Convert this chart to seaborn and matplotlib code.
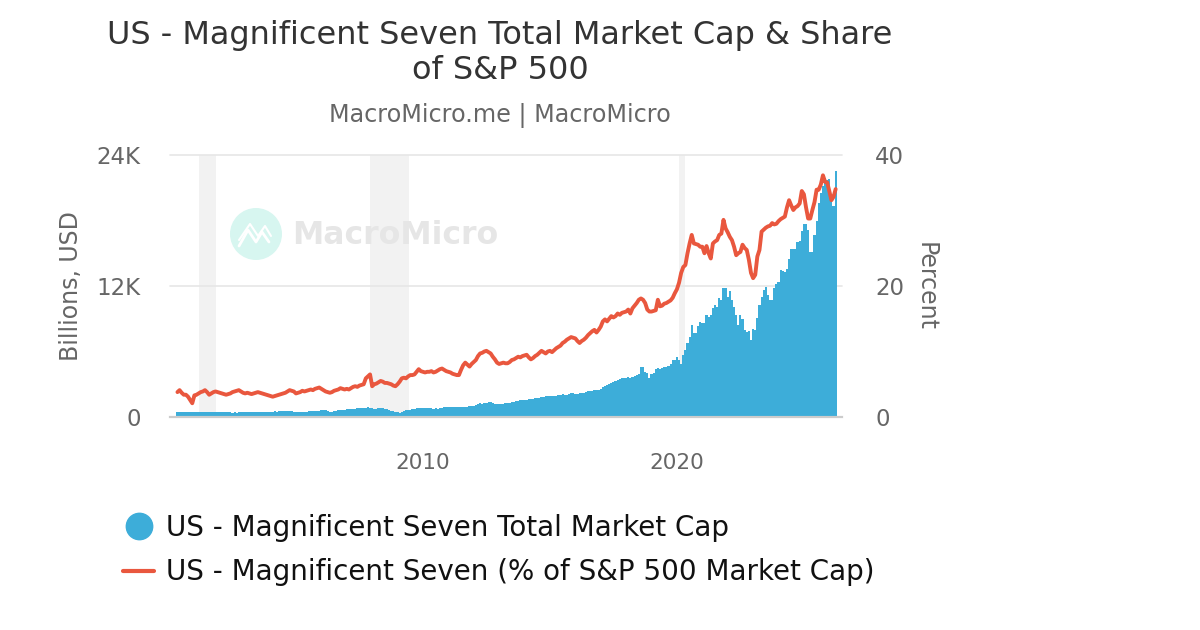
import numpy as np
import pandas as pd
import matplotlib.pyplot as plt
import seaborn as sns
from matplotlib.lines import Line2D
from matplotlib.patches import Ellipse

# Monthly data, May 2000 - Apr 2026
start_year, start_month = 2000, 5

# total market cap, billions USD (thousands on axis)
cap_k = (
    [0.50, 0.50, 0.49, 0.48, 0.47, 0.46, 0.45, 0.44]  # 2000
    + [0.45, 0.44, 0.43, 0.44, 0.45, 0.46, 0.45, 0.44, 0.42, 0.43, 0.44, 0.45]  # 2001
    + [0.45, 0.44, 0.44, 0.43, 0.43, 0.42, 0.41, 0.42, 0.41, 0.42, 0.43, 0.43]  # 2002
    + [0.43, 0.42, 0.43, 0.44, 0.45, 0.46, 0.47, 0.47, 0.48, 0.49, 0.50, 0.50]  # 2003
    + [0.50, 0.50, 0.51, 0.50, 0.51, 0.52, 0.51, 0.52, 0.53, 0.52, 0.51, 0.50]  # 2004
    + [0.50, 0.50, 0.49, 0.49, 0.50, 0.50, 0.51, 0.51, 0.52, 0.52, 0.53, 0.55]  # 2005
    + [0.65, 0.66, 0.60, 0.52, 0.50, 0.50, 0.52, 0.55, 0.62, 0.65, 0.66, 0.68]  # 2006
    + [0.70, 0.72, 0.73, 0.75, 0.76, 0.78, 0.78, 0.80, 0.82, 0.85, 0.88, 0.86]  # 2007
    + [0.78, 0.75, 0.76, 0.80, 0.82, 0.80, 0.72, 0.70, 0.65, 0.55, 0.52, 0.50]  # 2008
    + [0.42, 0.40, 0.45, 0.58, 0.62, 0.65, 0.68, 0.72, 0.75, 0.78, 0.80, 0.82]  # 2009
    + [0.80, 0.78, 0.82, 0.84, 0.78, 0.76, 0.78, 0.74, 0.80, 0.86, 0.88, 0.92]  # 2010
    + [0.95, 0.96, 0.94, 0.95, 0.93, 0.90, 0.95, 0.88, 0.90, 0.96, 0.98, 1.00]  # 2011
    + [1.02, 1.08, 1.20, 1.24, 1.22, 1.25, 1.30, 1.35, 1.38, 1.25, 1.16, 1.15]  # 2012
    + [1.18, 1.20, 1.22, 1.28, 1.30, 1.32, 1.36, 1.38, 1.42, 1.48, 1.52, 1.55]  # 2013
    + [1.55, 1.60, 1.62, 1.65, 1.68, 1.72, 1.75, 1.78, 1.84, 1.86, 1.90, 1.88]  # 2014
    + [1.92, 1.95, 1.93, 1.95, 1.98, 2.02, 2.08, 2.00, 2.05, 2.15, 2.18, 2.20]  # 2015
    + [2.15, 2.12, 2.18, 2.20, 2.22, 2.25, 2.35, 2.40, 2.42, 2.45, 2.44, 2.50]  # 2016
    + [2.60, 2.72, 2.84, 2.92, 3.05, 3.10, 3.18, 3.28, 3.36, 3.48, 3.55, 3.60]  # 2017
    + [3.60, 3.65, 3.55, 3.70, 3.80, 3.85, 3.95, 4.55, 4.60, 4.10, 4.05, 3.60]  # 2018
    + [3.95, 4.05, 4.40, 4.50, 4.40, 4.45, 4.60, 4.55, 4.70, 4.90, 5.20, 5.25]  # 2019
    + [5.50, 5.20, 4.90, 5.70, 6.10, 6.75, 7.35, 8.40, 7.70, 7.70, 8.30, 8.70]  # 2020
    + [8.60, 8.60, 9.30, 9.20, 9.30, 10.0, 10.3, 10.1, 10.9, 10.7, 11.8, 11.8]  # 2021
    + [11.0, 11.5, 10.7, 10.1, 9.30, 8.40, 9.30, 9.00, 8.00, 7.80, 7.90, 7.05]  # 2022
    + [8.10, 8.00, 9.10, 10.3, 11.0, 11.6, 11.9, 11.2, 10.7, 10.7, 11.8, 12.2]  # 2023
    + [12.4, 13.5, 13.4, 13.3, 13.6, 14.5, 15.4, 15.4, 15.4, 16.0, 16.1, 17.0]  # 2024
    + [17.7, 17.7, 17.1, 15.1, 15.1, 16.7, 18.0, 19.6, 20.5, 21.2, 21.9, 21.7]  # 2025
    + [21.8, 19.9, 19.3, 22.5]  # 2026
)

# share of S&P 500 market cap, percent
share_pct = (
    [3.8, 4.1, 3.7, 3.4, 3.4, 3.1, 2.6, 2.1]  # 2000
    + [3.3, 3.4, 3.6, 3.8, 3.9, 4.1, 3.8, 3.4, 3.6, 3.8, 3.9, 3.8]  # 2001
    + [3.7, 3.6, 3.5, 3.4, 3.5, 3.6, 3.8, 3.9, 4.0, 4.1, 3.9, 3.7]  # 2002
    + [3.6, 3.7, 3.6, 3.5, 3.6, 3.7, 3.8, 3.7, 3.6, 3.5, 3.4, 3.3]  # 2003
    + [3.2, 3.1, 3.2, 3.3, 3.4, 3.5, 3.6, 3.7, 3.9, 4.1, 4.0, 3.9]  # 2004
    + [3.6, 3.7, 3.8, 4.0, 3.9, 4.0, 4.1, 4.2, 4.1, 4.3, 4.4, 4.5]  # 2005
    + [4.3, 4.1, 3.9, 3.8, 3.7, 3.8, 4.0, 4.1, 4.2, 4.4, 4.3, 4.2]  # 2006
    + [4.3, 4.2, 4.4, 4.6, 4.7, 4.6, 4.8, 4.9, 5.0, 5.9, 6.2, 6.5]  # 2007
    + [4.7, 5.0, 5.1, 5.3, 5.5, 5.4, 5.2, 5.2, 5.1, 5.0, 4.8, 4.7]  # 2008
    + [5.0, 5.4, 5.9, 6.0, 5.9, 6.2, 6.4, 6.4, 6.5, 6.9, 7.3, 7.0]  # 2009
    + [6.9, 6.8, 6.9, 6.9, 7.0, 6.8, 6.9, 7.1, 7.3, 7.4, 7.2, 7.0]  # 2010
    + [6.9, 6.8, 6.6, 6.5, 6.4, 6.4, 7.2, 7.9, 8.3, 8.0, 7.7, 8.1]  # 2011
    + [8.4, 8.7, 9.3, 9.7, 9.8, 10.0, 10.1, 9.9, 9.7, 9.2, 8.8, 8.3]  # 2012
    + [8.1, 8.2, 8.3, 8.2, 8.2, 8.4, 8.7, 8.8, 9.0, 9.2, 9.1, 9.3]  # 2013
    + [9.4, 9.5, 9.1, 8.8, 9.0, 9.3, 9.5, 9.8, 10.1, 9.9, 9.7, 10.0]  # 2014
    + [10.1, 9.9, 10.2, 10.5, 10.7, 10.9, 11.3, 11.5, 11.8, 12.0, 12.2, 12.1]  # 2015
    + [12.0, 11.6, 11.3, 11.6, 11.8, 12.1, 12.5, 12.8, 13.1, 13.3, 12.9, 13.3]  # 2016
    + [13.8, 14.6, 14.9, 14.6, 15.0, 15.4, 15.2, 15.4, 15.8, 15.6, 15.9, 16.0]  # 2017
    + [16.1, 16.4, 15.8, 16.6, 17.0, 17.4, 17.9, 18.1, 17.9, 17.4, 16.4, 16.1]  # 2018
    + [16.1, 16.2, 16.3, 17.9, 16.9, 17.0, 17.3, 17.4, 17.6, 17.8, 18.2, 18.9]  # 2019
    + [19.5, 20.5, 22.0, 22.9, 23.2, 25.0, 26.5, 27.8, 26.5, 26.4, 26.3, 26.0]  # 2020
    + [26.0, 25.0, 26.1, 25.0, 24.2, 26.5, 26.8, 27.0, 27.8, 28.0, 30.1, 28.8]  # 2021
    + [28.2, 27.5, 27.0, 26.0, 24.7, 25.0, 25.2, 26.3, 25.8, 25.5, 24.0, 22.0]  # 2022
    + [21.2, 21.7, 24.5, 25.5, 28.3, 28.6, 28.9, 29.1, 29.2, 29.6, 29.4, 29.5]  # 2023
    + [29.9, 30.2, 30.4, 30.6, 32.0, 33.1, 32.3, 31.6, 32.0, 32.2, 32.6, 34.5]  # 2024
    + [34.0, 32.0, 30.3, 30.3, 31.6, 32.8, 34.7, 34.7, 35.5, 36.9, 35.9, 35.8]  # 2025
    + [34.5, 33.1, 33.6, 34.8]  # 2026
)

# recession periods (start, end) as decimal years
recessions = [(2001.17, 2001.87), (2007.92, 2009.47), (2020.08, 2020.33)]

blue = "#3DADD9"
red = "#E9573E"
grey_txt = "#666666"

n = len(cap_k)
months = pd.period_range(f"{start_year}-{start_month:02d}", periods=n, freq="M")
xs = np.array([p.year + (p.month - 1) / 12 for p in months])
df = pd.DataFrame({"x": xs, "cap": cap_k, "pct": share_pct})

sns.set_style("white")
plt.rcParams["font.family"] = ["DejaVu Sans"]

fig = plt.figure(figsize=(12, 6.3), dpi=100)
ax = fig.add_axes([170 / 1200, 1 - 417 / 630, 672 / 1200, 262 / 630])

for a, b in recessions:
    ax.axvspan(a, b, color="#F2F2F2", lw=0, zorder=0)

sns.barplot(data=df, x="x", y="cap", native_scale=True, color=blue,
            width=1.0, errorbar=None, linewidth=0, saturation=1, ax=ax, zorder=2)

ax2 = ax.twinx()
sns.lineplot(data=df, x="x", y="pct", color=red, linewidth=2.8, ax=ax2, zorder=3)

ax.set_xlim(2000.04, 2026.5)
ax.set_ylim(0, 24)
ax2.set_ylim(0, 40)

ax.set_yticks([0, 12, 24])
ax.set_yticklabels(["0", "12K", "24K"])
ax2.set_yticks([0, 20, 40])
ax.set_xticks([2010, 2020])
ax.set_xticklabels(["2010", "2020"])

ax.grid(axis="y", color="#E6E6E6", linewidth=1.2)
for gl in ax.get_ygridlines():
    gl.set_clip_on(False)
ax.set_axisbelow(True)
for a in (ax, ax2):
    for s in ["top", "right", "left"]:
        a.spines[s].set_visible(False)
    a.spines["bottom"].set_color("#CCCCCC")
    a.spines["bottom"].set_linewidth(1.5)
    a.set_xlabel("")

ax.tick_params(axis="x", colors="#CCCCCC", length=9, width=1.2, labelcolor=grey_txt,
               labelsize=15.5, pad=17)
ax.tick_params(axis="y", length=0, labelcolor=grey_txt, labelsize=16.5, pad=21)
ax2.tick_params(axis="y", length=0, labelcolor=grey_txt, labelsize=16.5, pad=24)

ax.set_ylabel("Billions, USD", color=grey_txt, fontsize=17, labelpad=10)
ax2.set_ylabel("Percent", color=grey_txt, fontsize=17, rotation=-90, labelpad=24)

fig.text(500 / 1200, 1 - 53 / 630,
         "US - Magnificent Seven Total Market Cap & Share\nof S&P 500",
         ha="center", va="center", fontsize=23, color="#333333", linespacing=1.13)
fig.text(500 / 1200, 1 - 116 / 630, "MacroMicro.me | MacroMicro",
         ha="center", va="center", fontsize=17.2, color=grey_txt)

# watermark
fig.add_artist(Ellipse((256 / 1200, 1 - 234 / 630), 52 / 1200, 52 / 630,
                       transform=fig.transFigure, color="#D7F6F0", lw=0, zorder=1))
zx = np.array([239, 248, 256, 262, 269]) / 1200
zy = 1 - np.array([246, 230, 242, 232, 242]) / 630
fig.add_artist(Line2D(zx, zy, color="white", lw=2, transform=fig.transFigure, zorder=2))
zx2 = np.array([239, 250, 258, 265, 271]) / 1200
zy2 = 1 - np.array([240, 224, 236, 226, 236]) / 630
fig.add_artist(Line2D(zx2, zy2, color="white", lw=1.5, transform=fig.transFigure, zorder=2))
fig.text(292 / 1200, 1 - 236 / 630, "MacroMicro", ha="left", va="center",
         fontsize=22.7, fontweight="bold", color="#E6E6E6", zorder=1)

# legend
handles = [
    Line2D([], [], marker="o", linestyle="none", markersize=19, color=blue),
    Line2D([], [], color=red, lw=3),
]
labels = ["US - Magnificent Seven Total Market Cap",
          "US - Magnificent Seven (% of S&P 500 Market Cap)"]
fig.legend(handles, labels, loc="upper left", bbox_to_anchor=(112 / 1200, 1 - 503 / 630),
           frameon=False, fontsize=20, handlelength=1.12, handletextpad=0.43,
           labelspacing=0.58, labelcolor="#111111", borderaxespad=0)

fig.savefig("out.png", dpi=100)
